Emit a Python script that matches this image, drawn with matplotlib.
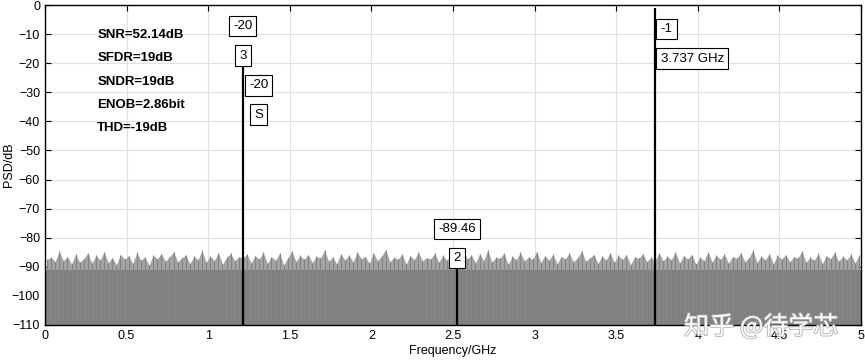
import numpy as np
import matplotlib
matplotlib.use('Agg')
import matplotlib.pyplot as plt
import matplotlib.patheffects as pe

plt.rcParams['font.family'] = ['Liberation Sans', 'DejaVu Sans']

# --- Data ---
# noise peaks per 25 MHz bin (dB), 0 .. 5 GHz
noise_peaks = [
    -87.5, -86.8, -88.2, -84.6, -87.9, -86.5, -89.1, -85.7, -88.4, -87.2,
    -85.3, -88.8, -86.1, -87.7, -84.9, -88.6, -86.9, -89.3, -85.8, -87.4,
    -86.2, -88.9, -85.1, -87.8, -86.6, -89.5, -86.0, -87.3, -85.5, -88.1,
    -86.7, -84.8, -88.3, -87.0, -85.9, -89.0, -86.4, -87.6, -84.4, -88.5,
    -86.3, -87.9, -85.2, -89.2, -86.8, -85.4, -88.0, -86.5,
    -87.1, -85.6, -88.7, -86.2, -87.4, -85.0, -88.9, -86.6, -87.8, -85.3,
    -89.4, -86.9, -84.7, -88.2, -86.1, -87.5, -85.8, -88.6, -86.4, -87.0,
    -84.3, -88.1, -86.7, -89.0, -85.5, -87.7, -86.0, -88.4, -84.9, -87.2,
    -86.5, -88.8, -85.2, -87.9, -86.3, -84.1, -88.3, -86.8, -87.4, -85.7,
    -89.1, -86.2, -87.6, -85.0, -88.0, -86.9, -87.3, -85.4, -88.5, -86.1,
    -87.8, -85.9,
    -86.6, -88.2, -84.5, -87.3, -86.0, -88.7, -85.6, -87.9, -84.2, -88.4,
    -86.8, -87.1, -85.3, -89.2, -86.4, -87.6, -85.1, -88.0, -86.7, -87.4,
    -84.8, -88.6, -86.2, -87.8, -85.7, -89.0, -86.5, -87.2, -85.4, -88.3,
    -86.9, -84.6, -88.1, -87.0, -85.8, -88.9, -86.3, -87.7, -85.2, -88.5,
    -86.1, -87.5, -85.9, -89.3, -86.6, -87.1, -85.5, -88.2, -86.8, -87.9,
    -85.3, -88.0, -86.4, -87.6, -85.0, -88.7, -86.2, -87.3, -85.8, -89.1,
    -86.7, -87.9, -84.9, -88.4, -86.0, -87.5, -85.6, -88.8, -86.5, -87.1,
    -85.2, -88.2, -86.9, -84.4, -88.6, -86.3, -87.7, -85.5, -89.0, -86.1,
    -87.4, -85.9, -88.3, -86.6, -87.0, -84.7, -88.5, -86.8, -87.8, -85.4,
    -88.9, -86.2, -87.2, -85.1, -88.1, -86.4, -87.6, -85.7, -88.7, -86.0,
]
noise_floor = -91.0        # solid part of the noise band
noise_freqs = np.linspace(0.0125, 4.9875, len(noise_peaks))

tone_freqs = [1.211, 2.526, 3.737]       # GHz
tone_levels = [-20, -89.46, -1]          # dB
tone_tags = ['3', '2', '3.737 GHz']

stats_lines = ['SNR=52.14dB', 'SFDR=19dB', 'SNDR=19dB', 'ENOB=2.86bit', 'THD=-19dB']

# --- Figure ---
fig = plt.figure(figsize=(8.65, 3.63), dpi=100)
ax = fig.add_axes([0.052, 0.105, 0.9435, 0.881])

gray = '#808080'
ax.fill_between(noise_freqs, -110, noise_peaks, color='#a4a4a4', lw=0)
ax.vlines(noise_freqs, -110, noise_peaks, color='#858585', lw=0.8)
ax.fill_between([0, 5], -110, noise_floor, color=gray, lw=0)

ax.vlines(tone_freqs, -110, tone_levels, color='black', lw=1.6, zorder=3)

box = dict(boxstyle='square,pad=0.32', fc='white', ec='black', lw=0.8)
fs = 9.5

def tag(x, y, dx, dy, s, ha='center'):
    ax.annotate(s, (x, y), xytext=(dx, dy), textcoords='offset points',
                ha=ha, va='center', fontsize=fs, bbox=box, zorder=5)

# 3rd harmonic (two overlapping data tips)
tag(tone_freqs[0], tone_levels[0], 0, 27, '-20')
tag(tone_freqs[0], tone_levels[0], 0, 5.5, tone_tags[0])
tag(tone_freqs[0], tone_levels[0], 11.5, -16, '-20')
tag(tone_freqs[0], tone_levels[0], 11.5, -37, 'S')
# 2nd harmonic
tag(tone_freqs[1], tone_levels[1], 0, 26, f'{tone_levels[1]:.2f}')
tag(tone_freqs[1], tone_levels[1], 0, 5, tone_tags[1])
# fundamental
tag(tone_freqs[2], tone_levels[2], 4, -15, f'{tone_levels[2]}', ha='left')
tag(tone_freqs[2], tone_levels[2], 4, -36.5, tone_tags[2], ha='left')

for i, s in enumerate(stats_lines):
    ax.text(0.064, 0.906 - i * 0.0727, s, transform=ax.transAxes,
            fontsize=9.5, fontweight='bold', va='center', ha='left')

ax.set_xlim(0, 5)
ax.set_ylim(-110, 0)
ax.set_xticks(np.arange(0, 5.01, 0.5))
ax.set_xticklabels(['0', '0.5', '1', '1.5', '2', '2.5', '3', '3.5', '4', '4.5', '5'])
ax.set_yticks(np.arange(-110, 1, 10))
ax.tick_params(direction='in', top=True, right=True, labelsize=9, length=4, width=0.8)
ax.grid(True, color='#e0e0e0', lw=0.8)
ax.set_axisbelow(True)
for sp in ax.spines.values():
    sp.set_linewidth(1.0)
ax.set_xlabel('Frequency/GHz', fontsize=9, labelpad=2)
ax.set_ylabel('PSD/dB', fontsize=9)
ax.yaxis.set_label_coords(-0.037, 0.5)

# watermark
fig.text(0.88, 0.099, '知乎 @待学芯', fontsize=18, color='white', ha='center', va='center',
         family=['Noto Sans CJK SC', 'DejaVu Sans'], alpha=0.95,
         path_effects=[pe.withStroke(linewidth=1.2, foreground='#b0b0b0')], zorder=10)

fig.savefig('out.png', dpi=100)
